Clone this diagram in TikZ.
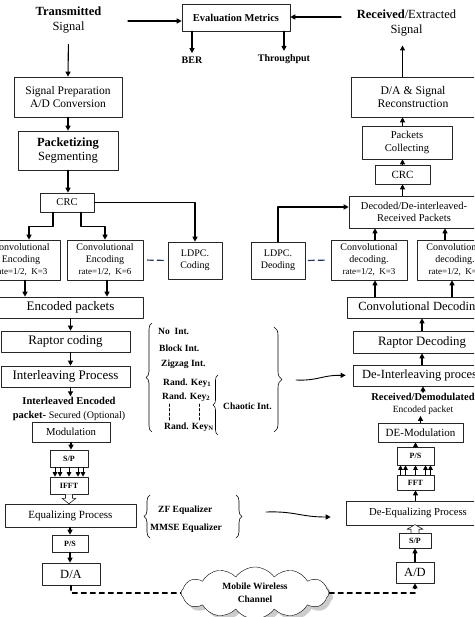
\documentclass[tikz,border=0pt]{standalone}
\usepackage{fontspec}
\setmainfont{Liberation Serif}
\usetikzlibrary{arrows.meta,shapes.symbols,shadows,decorations.pathreplacing}
\definecolor{navy}{RGB}{30,50,110}
\newcommand{\fsz}[2]{\fontsize{#1}{#2}\selectfont}
\begin{document}
\begin{tikzpicture}[x=1pt,y=-1pt,line cap=round,line join=round,
  box/.style={draw=black!85,line width=0.6pt,inner sep=0pt,align=center},
  arr/.style={line width=1.1pt,-{Triangle[length=5pt,width=5pt]}},
  tinyarr/.style={line width=1pt,-{Triangle[length=4.5pt,width=4.5pt]}},
  hollow/.style={draw=black!85,fill=white,line width=0.6pt},
  dashline/.style={line width=1.1pt,dash pattern=on 5pt off 4pt},
  navydash/.style={line width=1.2pt,draw=navy,dash pattern=on 6pt off 4pt},
  brc/.style={decorate,decoration={brace,amplitude=6pt},line width=0.6pt},
  lst/.style={font=\bfseries\fsz{9.5}{11},anchor=west,inner sep=0pt}]
  \useasboundingbox (0,0) rectangle (474,617);
  \clip (0,0) rectangle (474,617);
  \node[font=\fsz{12.5}{14.5},align=center] (tx) at (68.5,20) {\textbf{Transmitted}\\Signal};
  \node[box,font=\bfseries\fsz{10.5}{12},minimum width=108,minimum height=27] (eval) at (236,17.5) {Evaluation Metrics};
  \node[font=\fsz{12.5}{14.5},align=center] (rx) at (406.5,23) {\textbf{Received}/Extracted\\Signal};
  \node[font=\bfseries\fsz{10}{12}] (ber) at (192,60) {BER};
  \node[font=\bfseries\fsz{10}{12}] (thr) at (284,59) {Throughput};
  \coordinate (txo) at (128,21);
  \coordinate (rxo) at (341,17);
  \draw[arr] (txo) -- (eval.west |- txo);
  \draw[arr] (rxo) -- (eval.east |- rxo);
  \draw[arr] (eval.south -| ber) -- (ber.north);
  \draw[arr] (eval.south -| thr) -- (thr.north);
  \begin{scope}
    \node[box,font=\fsz{11.5}{13},minimum width=108,minimum height=40] (prep) at (68,97) {Signal Preparation\\A/D Conversion};
    \node[box,font=\fsz{12.5}{14},minimum width=100,minimum height=39] (pack) at (68,150.5) {\textbf{Packetizing}\\Segmenting};
    \node[box,font=\fsz{10.5}{12},minimum width=54,minimum height=19] (crcT) at (67,202.5) {CRC};
    \node[box,font=\fsz{10}{12},minimum width=78,minimum height=40] (conv1) at (21,260) {Convolutional\\Encoding\\{\fsz{9}{12}rate=1/2,\ \ K=3}};
    \node[box,font=\fsz{10}{12},minimum width=76,minimum height=40] (conv2) at (105,260) {Convolutional\\Encoding\\{\fsz{9}{12}rate=1/2,\ \ K=6}};
    \node[box,font=\fsz{10}{12},minimum width=54,minimum height=37] (ldpcT) at (195,260.5) {LDPC.\\Coding};
    \node[box,font=\fsz{13}{15},minimum width=145,minimum height=21] (enc) at (70.5,307.5) {Encoded packets};
    \node[box,font=\fsz{13}{15},minimum width=129,minimum height=21] (rapT) at (65.5,341.5) {Raptor coding};
    \node[box,font=\fsz{13}{15},minimum width=129,minimum height=21] (intl) at (65.5,376.5) {Interleaving Process};
    \node[font=\bfseries\fsz{10.5}{13.5},align=center,inner sep=1pt] (ienc) at (69,409) {Interleaved Encoded\\packet- {\mdseries\fsz{10}{13.5}Secured (Optional)}};
    \node[box,font=\fsz{10.7}{12},minimum width=78,minimum height=20] (mod) at (71,432) {Modulation};
    \node[box,font=\bfseries\fsz{8}{10},minimum width=38,minimum height=17] (spT) at (69,458.5) {S/P};
    \node[box,font=\bfseries\fsz{8}{10},minimum width=38,minimum height=17] (ifft) at (69,485.5) {IFFT};
    \node[box,font=\fsz{11}{13},minimum width=131,minimum height=23] (eqz) at (70.5,515.5) {Equalizing Process};
    \node[box,font=\bfseries\fsz{8}{10},minimum width=36,minimum height=17] (psT) at (70,543.5) {P/S};
    \node[box,font=\fsz{12.5}{14},minimum width=58,minimum height=22] (da) at (71,574) {D/A};
    \draw[arr,shorten <=8pt] (tx.south) -- (prep.north);
    \draw[arr] (prep.south) -- (pack.north);
    \draw[arr] (pack.south) -- (pack.south |- crcT.north);
    \draw[arr] ([xshift=-14pt]crcT.south) -- ++(0,14) -| ([xshift=8pt]conv1.north);
    \draw[arr] ([xshift=14pt]crcT.south) -- ++(0,14) -| (conv2.north);
    \draw[arr] (crcT.east) -| (ldpcT.north);
    \draw[navydash,shorten <=4pt,shorten >=3pt] (conv2.east) -- (ldpcT.west);
    \draw[arr] ([xshift=4pt]conv1.south) -- ([xshift=4pt]conv1.south |- enc.north);
    \draw[arr] ([xshift=2pt]conv2.south) -- ([xshift=2pt]conv2.south |- enc.north);
    \draw[arr] (enc.south) -- (enc.south |- rapT.north);
    \draw[arr] (rapT.south -| enc) -- (intl.north -| enc);
    \draw[arr] (intl.south -| enc) -- (ienc.north -| enc);
    \draw[arr] (mod.south) -- (mod.south |- spT.north);
    \foreach \dx in {-14,-9,0,9,14}
      \draw[tinyarr] ([xshift=\dx pt]spT.south) -- ([xshift=\dx pt]ifft.north);
    \filldraw[hollow] ([xshift=-3.5pt]ifft.south) -- ++(0,4) -- ++(-3.5,0) -- ++(7,5.5) -- ++(7,-5.5) -- ++(-3.5,0) -- ++(0,-4);
    \draw[arr] (eqz.south -| psT) -- (psT.north);
    \draw[arr] (psT.south) -- (psT.south |- da.north);
  \end{scope}
  \node[lst] (noint) at (158,331) {No\ \ Int.};
  \node[lst] (blkint) at (159,348) {Block Int.};
  \node[lst] (zzint) at (161,364) {Zigzag Int.};
  \node[lst] (key1) at (163,383) {Rand. Key\textsubscript{1}};
  \node[lst] (key2) at (162,397) {Rand. Key\textsubscript{2}};
  \node[lst] (keyn) at (164,427) {Rand. Key\textsubscript{N}};
  \node[lst] (chaos) at (223,406) {Chaotic Int.};
  \draw[line width=0.8pt,dash pattern=on 2.5pt off 2pt] (169,404) -- (169,421);
  \draw[line width=0.8pt,dash pattern=on 2.5pt off 2pt] (199,404) -- (199,421);
  \draw[brc] (152,432) -- (152,323);
  \draw[brc,decoration={amplitude=8pt}] (274,327) -- (274,432);
  \draw[brc,decoration={amplitude=5pt}] (218,435) -- (218,375);
  \node[lst] (zf) at (158,510) {ZF Equalizer};
  \node[lst] (mmse) at (150,528) {MMSE Equalizer};
  \draw[brc] (150,538) -- (150,495);
  \draw[brc] (236,495) -- (236,538);
  \begin{scope}
    \node[box,font=\fsz{11.7}{13},minimum width=124,minimum height=40] (dasr) at (413,97) {D/A \& Signal\\Reconstruction};
    \node[box,font=\fsz{10.6}{12.5},minimum width=90,minimum height=33] (pcoll) at (407,142.5) {Packets\\Collecting};
    \node[box,font=\fsz{11}{13},minimum width=55,minimum height=19] (crcR) at (402.5,174.5) {CRC};
    \node[box,font=\fsz{10.5}{12.5},minimum width=130,minimum height=32] (dec) at (414,212) {Decoded/De-interleaved-\\Received Packets};
    \node[box,font=\fsz{10}{12},minimum width=54,minimum height=37] (ldpcR) at (278,260.5) {LDPC.\\Deoding};
    \node[box,font=\fsz{10}{12},minimum width=76,minimum height=40] (cdec1) at (369,260) {Convolutional\\decoding.\\{\fsz{9}{12}rate=1/2,\ \ K=3}};
    \node[box,font=\fsz{10}{12},minimum width=76,minimum height=40] (cdec2) at (455,260) {Convolutional\\decoding.\\{\fsz{9}{12}rate=1/2,\ \ K=6}};
    \node[box,font=\fsz{12.5}{14},minimum width=146,minimum height=21] (cdecall) at (420,307.5) {Convolutional Decoding};
    \node[box,font=\fsz{12.8}{14},minimum width=138,minimum height=22] (rapR) at (422,342) {Raptor Decoding};
    \node[box,font=\fsz{12.5}{14},minimum width=138,minimum height=21] (deint) at (422,375.5) {De-Interleaving process};
    \node[font=\fsz{9.5}{12},align=center,inner sep=1pt] (rdem) at (423,404) {{\bfseries\fsz{10.5}{12}Received/Demodulated}\\Encoded packet};
    \node[box,font=\fsz{11}{13},minimum width=85,minimum height=19] (demod) at (420.5,432.5) {DE-Modulation};
    \node[box,font=\bfseries\fsz{8}{10},minimum width=37,minimum height=18] (psR) at (415.5,456) {P/S};
    \node[box,font=\bfseries\fsz{8}{10},minimum width=37,minimum height=15] (fft) at (415.5,482.5) {FFT};
    \node[box,font=\fsz{10.7}{12},minimum width=144,minimum height=24] (deq) at (418,513) {De-Equalizing Process};
    \node[box,font=\bfseries\fsz{8}{10},minimum width=32,minimum height=15] (spR) at (415,540.5) {S/P};
    \node[box,font=\fsz{12.5}{14},minimum width=38,minimum height=21] (ad) at (415,572.5) {A/D};
    \draw[arr] (ad.north) -- (spR.south);
    \filldraw[hollow] ([xshift=-4pt]spR.north) -- ++(0,-3.5) -- ++(-4,0) -- ++(8,-4.5) -- ++(8,4.5) -- ++(-4,0) -- ++(0,3.5);
    \draw[arr] (deq.north -| fft) -- (fft.south);
    \foreach \dx in {-15,-10,0,10,15}
      \draw[tinyarr] ([xshift=\dx pt]fft.north) -- ([xshift=\dx pt]psR.south);
    \draw[arr] (psR.north) -- (psR.north |- demod.south);
    \draw[arr] (demod.north) -- (demod.north |- rdem.south);
    \draw[arr] (rdem.north) -- (rdem.north |- deint.south);
    \draw[arr] (deint.north) -- (rapR.south);
    \draw[arr] (rapR.north) -- (rapR.north |- cdecall.south);
    \draw[arr] ([xshift=6pt]cdec1.south |- cdecall.north) -- ([xshift=6pt]cdec1.south);
    \draw[arr] ([xshift=-3pt]cdec2.south |- cdecall.north) -- ([xshift=-3pt]cdec2.south);
    \draw[arr] ([xshift=6pt]cdec1.north) -- ([xshift=6pt]cdec1.north |- dec.south);
    \draw[arr] ([xshift=-10pt]cdec2.north) -- ([xshift=-10pt]cdec2.north |- dec.south);
    \draw[arr] (ldpcR.north) |- ([yshift=5pt]dec.west);
    \draw[navydash,shorten <=3pt,shorten >=5pt] (ldpcR.east) -- (cdec1.west);
    \draw[arr] (dec.north -| crcR) -- (crcR.south);
    \draw[arr] (crcR.north) -- (crcR.north |- pcoll.south);
    \draw[arr] (pcoll.north -| crcR) -- (dasr.south -| crcR);
    \draw[arr,shorten >=6pt] (dasr.north -| crcR) -- (rx.south -| crcR);
  \end{scope}
  \coordinate (chs) at (296,380);
  \coordinate (eqs) at (266,512);
  \draw[line width=0.9pt,-{Triangle[length=5pt,width=5pt]},shorten >=7pt] (chs) .. controls (318,381) and (322,375) .. (deint.west);
  \draw[line width=0.9pt,-{Triangle[length=5pt,width=5pt]},shorten >=15pt] (eqs) .. controls (295,511) and (300,517) .. ([yshift=-4pt]deq.west);
  \node[cloud,cloud puffs=12,cloud puff arc=110,aspect=2.6,draw,fill=white,drop shadow={shadow xshift=4pt,shadow yshift=-4pt,fill=black!40},minimum width=148,minimum height=52,font=\bfseries\fsz{9.5}{13},align=center,inner sep=0pt] (cloud) at (255,593) {Mobile Wireless\\Channel};
  \draw[dashline] (da.south) |- (cloud.west);
  \draw[dashline,-{Triangle[length=5pt,width=5pt]}] (cloud.east) -| (ad.south);
\end{tikzpicture}
\end{document}
